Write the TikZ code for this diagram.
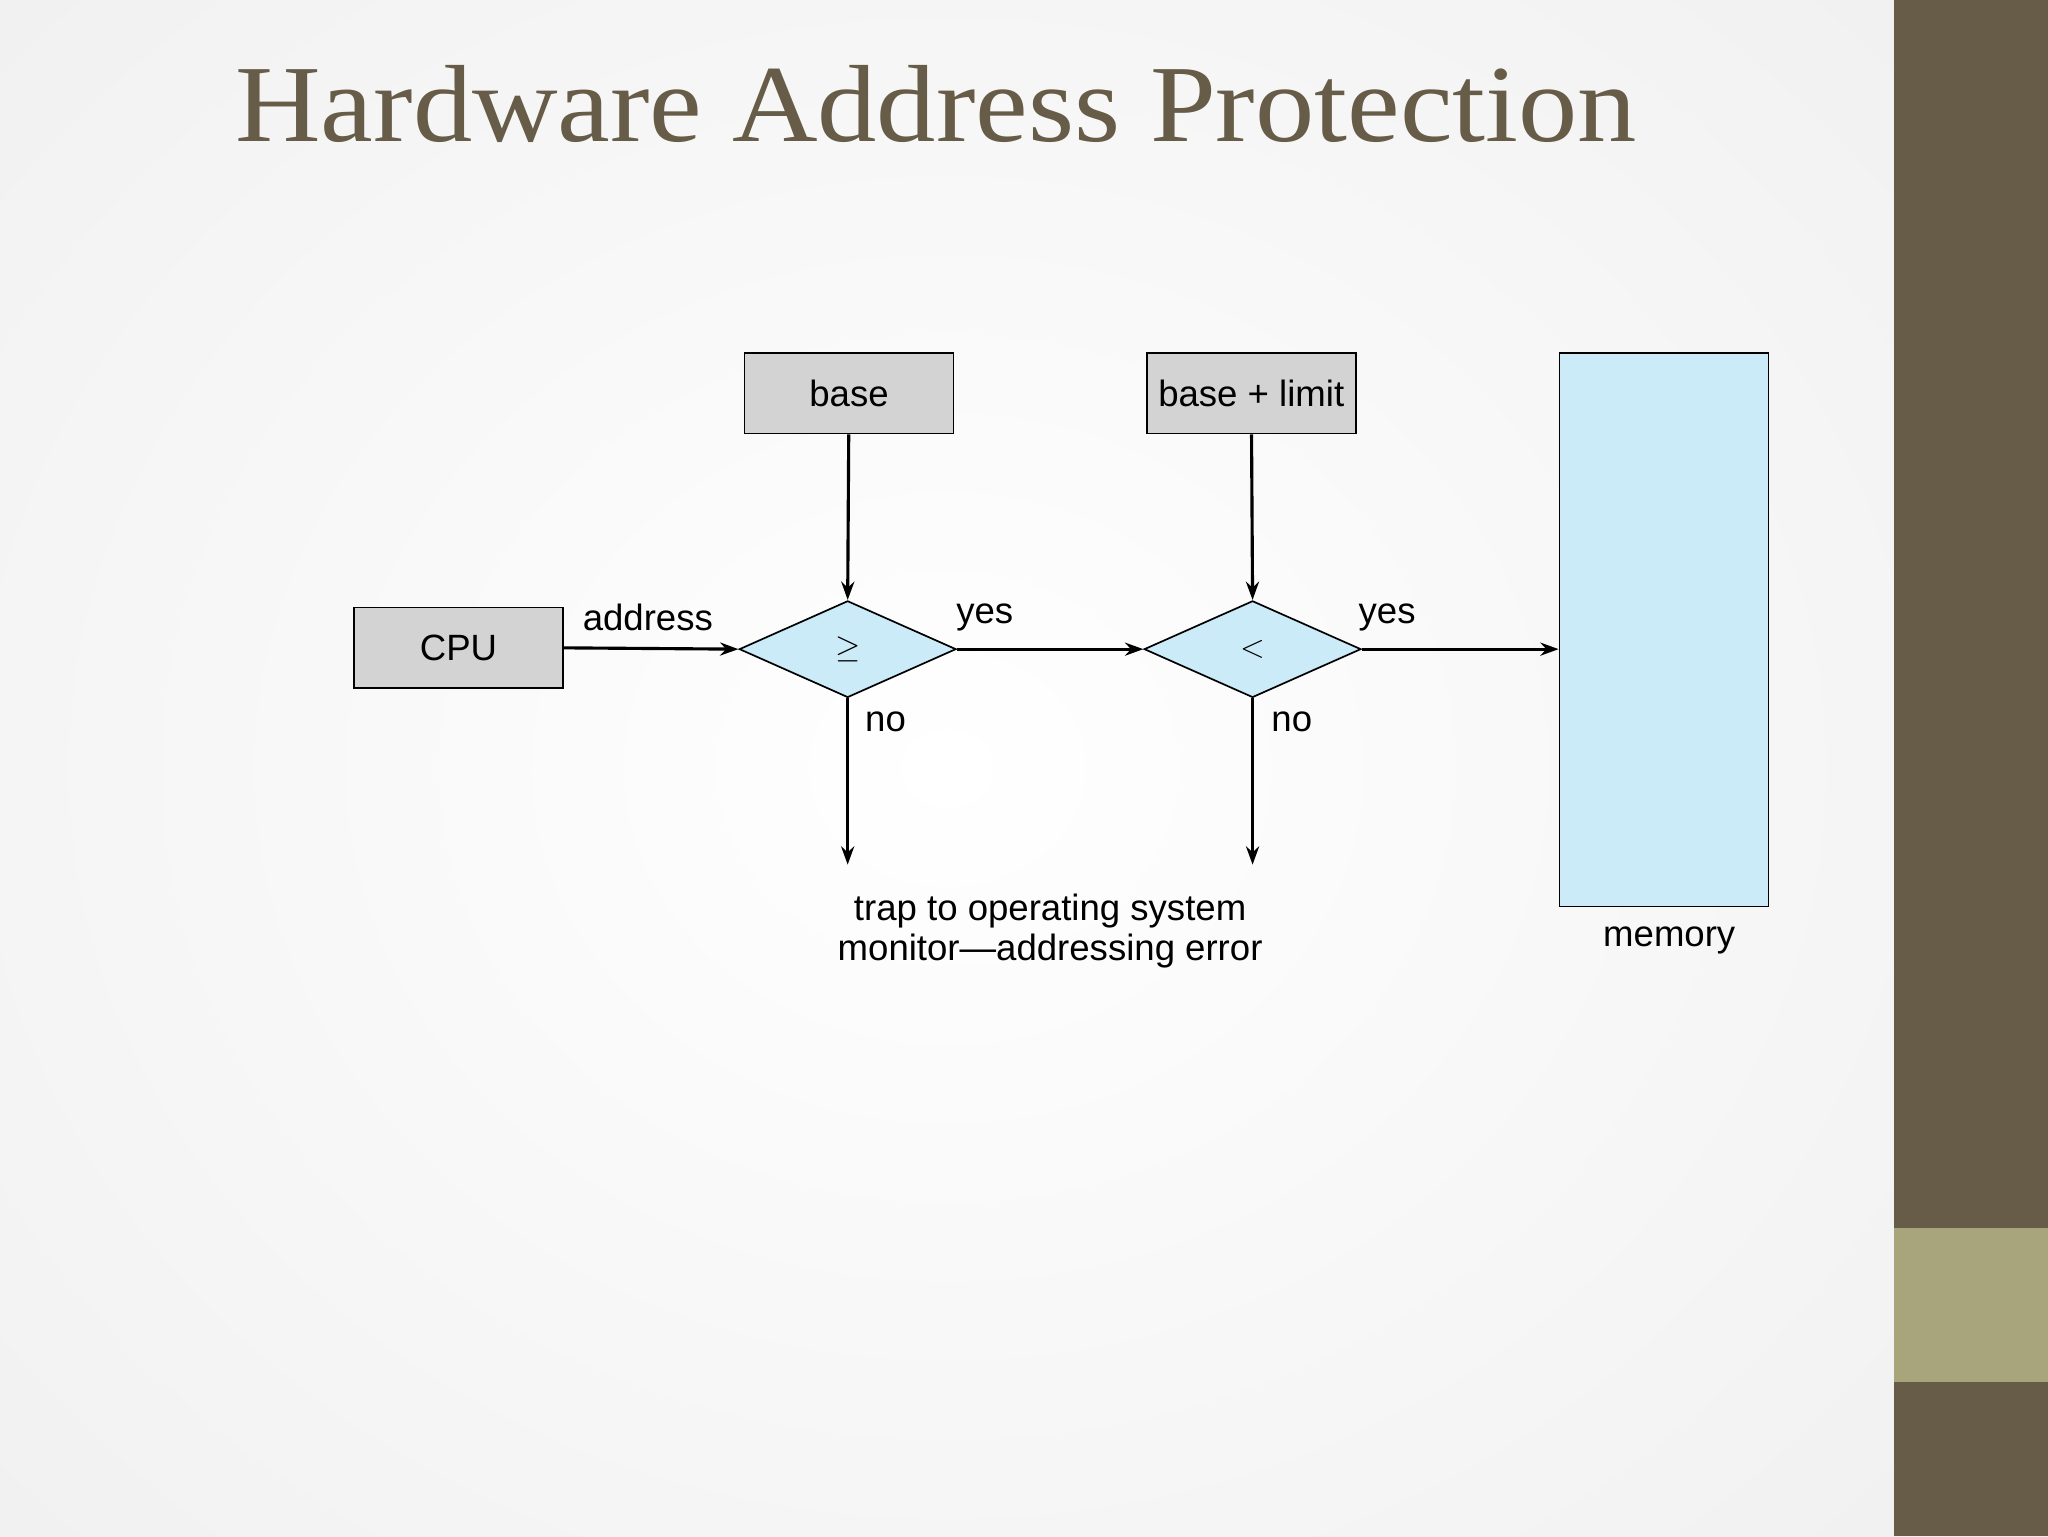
\documentclass[tikz,border=0pt]{standalone}
\usepackage{fontspec}
\setmainfont{Liberation Sans}
\newfontfamily\titlefont{Liberation Serif}
\usetikzlibrary{shapes.geometric,arrows.meta}
\definecolor{olive}{HTML}{665C47}
\definecolor{lightolive}{HTML}{A8A47C}
\definecolor{boxgray}{HTML}{D3D3D3}
\definecolor{lblue}{HTML}{CCEBF8}
\begin{document}
\begin{tikzpicture}[x=1pt,y=-1pt,
  gbox/.style={draw,fill=boxgray,line width=1.3pt,minimum width=160pt,minimum height=62pt,inner sep=0pt,font=\fontsize{28}{32}\selectfont},
  dia/.style={draw,fill=lblue,diamond,aspect=2.24,minimum width=166pt,minimum height=74pt,inner sep=0pt,line width=1.3pt,font=\fontsize{26}{30}\selectfont},
  lbl/.style={font=\fontsize{28}{32}\selectfont,inner sep=0pt},
  arr/.style={-{Stealth[length=14pt,width=10pt]},line width=2.4pt}]
\useasboundingbox (0,0) rectangle (1568,1176);
\shade[inner color=white,outer color=gray!18] (-900,-800) rectangle (2350,1976);
\fill[olive] (1450,0) rectangle (1568,1176);
\fill[lightolive] (1450,940) rectangle (1568,1058);
\node[anchor=base west,inner sep=0pt,text=olive,xscale=1.08,transform shape,font=\titlefont\fontsize{84}{94}\selectfont] (title) at (180,108) {Hardware Address Protection};
\node[gbox] (base) at (650,301) {base};
\node[gbox] (bl) at (958,301) {base + limit};
\node[gbox] (cpu) at (351,496) {CPU};
\node[draw,fill=lblue,line width=1.3pt,minimum width=160pt,minimum height=424pt,inner sep=0pt] (mem) at (1274,482) {};
\node[dia] (d1) at (649,497) {$\geq$};
\node[dia] (d2) at (959,497) {$<$};
\coordinate (t1) at (649,662);
\coordinate (t2) at (959,662);
\draw[arr] (base) -- (d1.north);
\draw[arr] (bl) -- (d2.north);
\draw[arr] (cpu.east) -- (d1.west);
\draw[arr] (d1.east) -- (d2.west);
\draw[arr] (d2.east) -- (mem.west |- d2.east);
\draw[arr] (d1.south) -- (t1);
\draw[arr] (d2.south) -- (t2);
\node[lbl] (la) at (496,473) {address};
\node[lbl] (ly1) at (754,473) {yes};
\node[lbl] (ly2) at (1062,473) {yes};
\node[lbl] (ln1) at (678,553) {no};
\node[lbl] (ln2) at (989,553) {no};
\node[lbl,align=center,font=\fontsize{28}{31}\selectfont] (trap) at (804,713) {trap to operating system\\monitor—addressing error};
\node[lbl] (lm) at (1278,720) {memory};
\end{tikzpicture}
\end{document}
